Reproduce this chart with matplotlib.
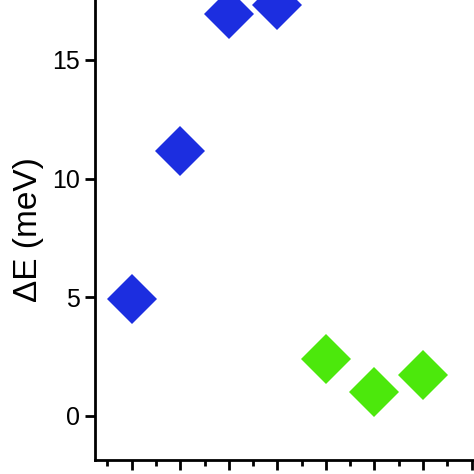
import matplotlib
matplotlib.use("Agg")
import matplotlib.pyplot as plt
from matplotlib.ticker import MultipleLocator

plt.rcParams["font.family"] = ["Liberation Sans", "DejaVu Sans"]

# ── Data ──────────────────────────────────────────────
blue_x = [1, 2, 3, 4]
blue_y = [4.9, 11.15, 16.95, 17.3]
green_x = [5, 6, 7]
green_y = [2.4, 1.0, 1.7]

fig = plt.figure(figsize=(4.74, 4.74), dpi=100)
ax = fig.add_axes([0.2, 0.03, 0.8, 0.97])

ax.plot(blue_x, blue_y, "D", color="#1c2ee0", markersize=25, markeredgewidth=0)
ax.plot(green_x, green_y, "D", color="#4ce80c", markersize=25, markeredgewidth=0)

ax.set_xlim(0.24, 8.05)
ax.set_ylim(-1.86, 17.53)
ax.yaxis.set_major_locator(MultipleLocator(5))
ax.xaxis.set_major_locator(MultipleLocator(1))
ax.xaxis.set_minor_locator(MultipleLocator(0.5))
ax.set_xticklabels([])
ax.tick_params(axis="y", labelsize=18, width=2, length=7)
ax.tick_params(axis="x", which="major", width=2, length=7)
ax.tick_params(axis="x", which="minor", width=2, length=4)
for s in ("top", "right"):
    ax.spines[s].set_visible(False)
for s in ("left", "bottom"):
    ax.spines[s].set_linewidth(2)
ax.set_ylabel("ΔE (meV)", fontsize=24, labelpad=6)

fig.savefig("out.png", dpi=100)
